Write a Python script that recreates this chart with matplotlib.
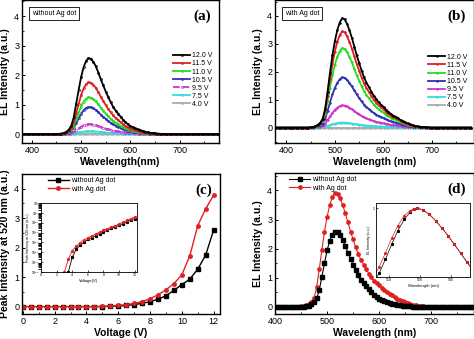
import matplotlib
matplotlib.use('Agg')
import matplotlib.pyplot as plt
import numpy as np
from matplotlib.ticker import AutoMinorLocator

plt.rcParams['font.family'] = ['Liberation Sans', 'DejaVu Sans']

# wavelength grid of the spectra (nm)
wl = list(range(380, 785, 5))
# normalised EL spectrum, without Ag dot (black)
shape_no = [0, 0, 0, 0, 0, 0, 0, 0, 0, 0, 0, 0, 0, 0, 0, 0.003,
            0.008, 0.015, 0.03, 0.06, 0.11, 0.22, 0.40, 0.58, 0.75, 0.88,
            0.96, 1.00, 0.99, 0.95, 0.89, 0.81, 0.72, 0.64, 0.56, 0.49,
            0.42, 0.36, 0.31, 0.27, 0.23, 0.19, 0.16, 0.13, 0.105, 0.09,
            0.075, 0.062, 0.05, 0.04, 0.032, 0.025, 0.019, 0.014, 0.01, 0.007,
            0.005, 0.003, 0.002, 0.001, 0, 0, 0, 0, 0, 0, 0, 0, 0, 0, 0,
            0, 0, 0, 0, 0, 0, 0, 0, 0, 0]
# normalised EL spectrum, with Ag dot (panel d, red)
shape_ag = [0, 0, 0, 0, 0, 0, 0, 0, 0, 0, 0, 0, 0, 0, 0.003, 0.006,
            0.012, 0.025, 0.045, 0.08, 0.17, 0.33, 0.50, 0.66, 0.79, 0.89,
            0.96, 1.00, 0.99, 0.95, 0.89, 0.82, 0.74, 0.66, 0.59, 0.52,
            0.46, 0.41, 0.37, 0.33, 0.29, 0.26, 0.23, 0.21, 0.19, 0.165,
            0.145, 0.125, 0.11, 0.10, 0.085, 0.07, 0.058, 0.048, 0.038, 0.03,
            0.022, 0.016, 0.011, 0.008, 0.005, 0.003, 0.002, 0.001, 0, 0, 0, 0, 0, 0, 0,
            0, 0, 0, 0, 0, 0, 0, 0, 0, 0]

volt_labels = ['12.0 V', '11.5 V', '11.0 V', '10.5 V', '9.5 V', '7.5 V', '4.0 V']
colors = ['black', '#e02020', '#22dd22', '#3030b0', '#cc33cc', '#33dddd', '#aaaaaa']
peaks_no = [2.58, 1.76, 1.25, 0.92, 0.34, 0.10, 0.0]
peaks_ag = [3.92, 3.45, 2.85, 1.80, 0.80, 0.18, 0.0]

# peak intensity at 520 nm vs voltage
voltage = [0, 0.5, 1, 1.5, 2, 2.5, 3, 3.5, 4, 4.5, 5, 5.5, 6, 6.5, 7,
           7.5, 8, 8.5, 9, 9.5, 10, 10.5, 11, 11.5, 12]
peak_no = [0, 0, 0, 0, 0, 0, 0, 0, 0, 0, 0, 0.01, 0.02, 0.04, 0.07,
           0.11, 0.17, 0.25, 0.37, 0.55, 0.75, 0.93, 1.27, 1.75, 2.6]
peak_ag = [0, 0, 0, 0, 0, 0, 0, 0, 0, 0, 0.01, 0.02, 0.04, 0.07, 0.11,
           0.17, 0.27, 0.40, 0.57, 0.78, 1.08, 1.72, 2.75, 3.32, 3.78]

# inset of (c): log scale
v_log = [3, 3.5, 4, 4.5, 5, 5.5, 6, 6.5, 7, 7.5, 8, 8.5, 9, 9.5, 10, 10.5, 11, 11.5, 12]
log_no = [None, 1e-6, 3e-5, 2e-4, 5e-4, 1e-3, 2e-3, 3e-3, 5e-3, 8e-3, 1.2e-2,
          1.8e-2, 2.6e-2, 3.8e-2, 5.5e-2, 8e-2, 0.12, 0.18, 0.26]
log_ag = [1e-6, 2e-5, 1.5e-4, 4e-4, 9e-4, 1.8e-3, 3e-3, 4.5e-3, 7e-3, 1.1e-2, 1.7e-2,
          2.5e-2, 3.6e-2, 5e-2, 7.5e-2, 0.11, 0.17, 0.26, 0.38]

# inset of (d): normalised spectra around the peak
wl_in = [505, 507, 509, 511, 513, 515, 517, 518, 519, 521, 523, 525, 527, 529, 531, 533, 535, 537]
norm_no = [0.40, 0.48, 0.59, 0.71, 0.82, 0.91, 0.97, 0.99, 1.00, 0.985, 0.95, 0.90, 0.84, 0.78, 0.71, 0.64, 0.57, 0.50]
norm_ag = [0.44, 0.53, 0.64, 0.76, 0.86, 0.94, 0.98, 0.995, 1.00, 0.985, 0.95, 0.90, 0.84, 0.78, 0.71, 0.64, 0.57, 0.50]

fig = plt.figure(figsize=(4.74, 3.39), dpi=100)
W, H = 474.0, 339.0


def box(l, t, r, b):
    return [l / W, 1 - b / H, (r - l) / W, (b - t) / H]


def style(ax, xlabel, ylabel, label):
    ax.tick_params(labelsize=6.5, length=2.5, width=0.7, direction='in', pad=2)
    ax.tick_params(which='minor', length=1.5, direction='in')
    ax.xaxis.set_minor_locator(AutoMinorLocator(2))
    ax.yaxis.set_minor_locator(AutoMinorLocator(2))
    for s in ax.spines.values():
        s.set_linewidth(1.0)
    ax.set_xlabel(xlabel, fontsize=7.5, fontweight='bold', labelpad=1.5)
    ax.set_ylabel(ylabel, fontsize=7.5, fontweight='bold', labelpad=3)
    ax.text(0.96, 0.93, label, transform=ax.transAxes, ha='right', va='top',
            fontsize=11, fontweight='bold', family='Liberation Serif')


wl_arr = np.array(wl)

# (a)
ax = fig.add_axes(box(22, 0, 219, 143))
sh = np.array(shape_no)
for lab, c, p in zip(volt_labels[::-1], colors[::-1], peaks_no[::-1]):
    ls = '--' if lab == '9.5 V' else '-'
    ax.plot(wl_arr, sh * p, color=c, lw=1.3, ls=ls, marker='o', ms=1.5,
            mfc='none', mew=0.5, label=lab)
h, l = ax.get_legend_handles_labels()
ax.legend(h[::-1], l[::-1], loc='center right', bbox_to_anchor=(1.0, 0.44), fontsize=5,
          frameon=False, handlelength=2.5, labelspacing=0.15, handletextpad=0.3)
ax.set_xlim(380, 780)
ax.set_ylim(-0.3, 4.55)
ax.set_xticks([400, 500, 600, 700])
ax.set_yticks([0, 1, 2, 3, 4])
style(ax, 'Wavelength(nm)', 'EL Intensity (a.u.)', '(a)')
ax.text(0.05, 0.93, 'without Ag dot', transform=ax.transAxes, fontsize=5, va='top',
        bbox=dict(boxstyle='square,pad=0.4', fc='white', ec='black', lw=0.6))

# (b)
ax = fig.add_axes(box(275, 0, 474, 143))
sh = np.array(shape_ag)
for lab, c, p in zip(volt_labels[::-1], colors[::-1], peaks_ag[::-1]):
    ax.plot(wl_arr, sh * p, color=c, lw=1.3, marker='o', ms=1.3, mew=0.4, label=lab)
h, l = ax.get_legend_handles_labels()
ax.legend(h[::-1], l[::-1], loc='center right', bbox_to_anchor=(1.0, 0.43), fontsize=5,
          frameon=False, handlelength=2.5, labelspacing=0.15, handletextpad=0.3)
ax.set_xlim(377, 786)
ax.set_ylim(-0.55, 4.57)
ax.set_xticks([400, 500, 600, 700])
ax.set_yticks([0, 1, 2, 3, 4])
style(ax, 'Wavelength (nm)', 'EL Intensity (a.u.)', '(b)')
ax.text(0.05, 0.93, 'with Ag dot', transform=ax.transAxes, fontsize=5, va='top',
        bbox=dict(boxstyle='square,pad=0.4', fc='white', ec='black', lw=0.6))

# (c)
ax = fig.add_axes(box(22, 174, 220, 314))
ax.plot(voltage, peak_no, color='black', marker='s', ms=2.5, lw=1.0, label='without Ag dot')
ax.plot(voltage, peak_ag, color='#e02020', marker='o', ms=2.5, lw=1.0, label='with Ag dot')
ax.legend(loc='upper left', bbox_to_anchor=(0.1, 1.02), fontsize=5, frameon=False,
          handlelength=3, labelspacing=0.2, handletextpad=0.3)
ax.set_xlim(-0.05, 12.4)
ax.set_ylim(-0.25, 4.5)
ax.set_xticks([0, 2, 4, 6, 8, 10, 12])
ax.set_yticks([0, 1, 2, 3, 4])
style(ax, 'Voltage (V)', 'Peak Intensity at 520 nm (a.u.)', '(c)')

ins = fig.add_axes(box(41, 203, 137, 272))
ins.semilogy(v_log, [np.nan if v is None else v for v in log_no], color='black',
             marker='s', ms=1.3, lw=0.6)
ins.semilogy(v_log, log_ag, color='#e02020', marker='o', ms=1.3, lw=0.6, mfc='none')
ins.set_xlim(0, 12.3)
ins.set_ylim(1e-6, 1e1)
ins.set_xticks([0, 2, 4, 6, 8, 10, 12])
ins.tick_params(labelsize=2.5, length=1.2, width=0.5, direction='in', pad=1)
ins.set_xlabel('Voltage(V)', fontsize=3, labelpad=1)
ins.set_ylabel('Peak Intensity at 520 nm (a.u.)', fontsize=2.5, labelpad=1)
for s in ins.spines.values():
    s.set_linewidth(0.6)

# (d)
ax = fig.add_axes(box(275, 173, 474, 314))
ax.plot(wl_arr, np.array(shape_ag) * peaks_ag[0], color='#e02020', marker='o', ms=2.4,
        lw=0.8, label='with Ag dot', zorder=2)
ax.plot(wl_arr, np.array(shape_no) * peaks_no[0], color='black', marker='s', ms=2.4,
        lw=0.8, label='without Ag dot', zorder=3)
h, l = ax.get_legend_handles_labels()
ax.legend(h[::-1], l[::-1], loc='upper left', bbox_to_anchor=(0.04, 1.02), fontsize=5,
          frameon=False, handlelength=3, labelspacing=0.2, handletextpad=0.3)
ax.set_xlim(400, 782)
ax.set_ylim(-0.25, 4.6)
ax.set_xticks([400, 500, 600, 700])
ax.set_yticks([0, 1, 2, 3, 4])
style(ax, 'Wavelength (nm)', 'EL Intensity (a.u.)', '(d)')

ins = fig.add_axes(box(376, 203, 470, 277))
ins.plot(wl_in, norm_no, color='black', marker='s', ms=1.2, lw=0.5)
ins.plot(wl_in, norm_ag, color='#e02020', marker='o', ms=1.2, lw=0.5, mfc='none')
ins.set_xlim(506, 536)
ins.set_ylim(0.45, 1.04)
ins.set_xticks([510, 520, 530])
ins.set_yticks([1])
ins.tick_params(labelsize=2.5, length=1.2, width=0.5, direction='in', pad=1)
ins.set_xlabel('Wavelength (nm)', fontsize=3, labelpad=1)
ins.set_ylabel('EL Intensity (a.u.)', fontsize=2.5, labelpad=1)
for s in ins.spines.values():
    s.set_linewidth(0.6)

fig.savefig('out.png', dpi=100)
